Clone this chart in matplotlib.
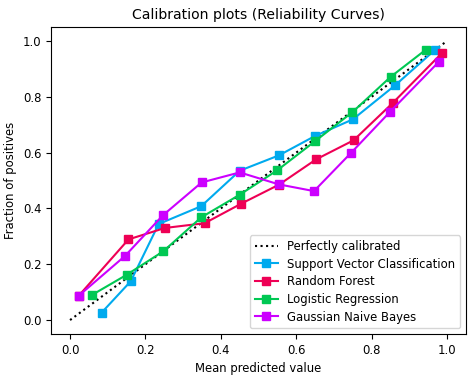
import matplotlib
matplotlib.use("Agg")
import matplotlib.pyplot as plt

# mean predicted value / fraction of positives
svc_x = [0.084, 0.161, 0.235, 0.348, 0.450, 0.554, 0.649, 0.750, 0.863, 0.968]
svc_y = [0.027, 0.139, 0.344, 0.408, 0.535, 0.590, 0.659, 0.719, 0.842, 0.968]

rf_x = [0.023, 0.155, 0.252, 0.357, 0.454, 0.554, 0.653, 0.752, 0.856, 0.986]
rf_y = [0.087, 0.289, 0.330, 0.347, 0.417, 0.485, 0.576, 0.644, 0.778, 0.956]

lr_x = [0.057, 0.150, 0.247, 0.348, 0.450, 0.550, 0.649, 0.749, 0.850, 0.943]
lr_y = [0.089, 0.162, 0.246, 0.368, 0.449, 0.537, 0.640, 0.745, 0.871, 0.968]

gnb_x = [0.023, 0.146, 0.246, 0.349, 0.450, 0.554, 0.647, 0.746, 0.848, 0.978]
gnb_y = [0.087, 0.230, 0.375, 0.493, 0.529, 0.486, 0.462, 0.600, 0.745, 0.925]

perfect = [0, 1]

series = [
    ("Support Vector Classification", svc_x, svc_y, "#00AAEE"),
    ("Random Forest", rf_x, rf_y, "#EE0055"),
    ("Logistic Regression", lr_x, lr_y, "#00C853"),
    ("Gaussian Naive Bayes", gnb_x, gnb_y, "#CC00FF"),
]

# reference looks like a default figure scaled down, so fonts are ~0.84x
plt.rcParams["font.size"] = 8.4

fig = plt.figure(figsize=(4.74, 3.8), dpi=100)
ax = fig.add_axes([0.108, 0.121, 0.875, 0.808])

ax.plot(perfect, perfect, "k:", label="Perfectly calibrated")
for label, xs, ys, color in series:
    ax.plot(xs, ys, "s-", color=color, label=label, markersize=6)

ax.set_xlim(-0.05, 1.05)
ax.set_ylim(-0.05, 1.05)
ax.set_xticks([0.0, 0.2, 0.4, 0.6, 0.8, 1.0])
ax.set_yticks([0.0, 0.2, 0.4, 0.6, 0.8, 1.0])
ax.set_title("Calibration plots (Reliability Curves)")
ax.set_xlabel("Mean predicted value")
ax.set_ylabel("Fraction of positives")
ax.legend(loc="lower right", labelspacing=0.4)

fig.savefig("out.png", dpi=100)
plt.close(fig)
